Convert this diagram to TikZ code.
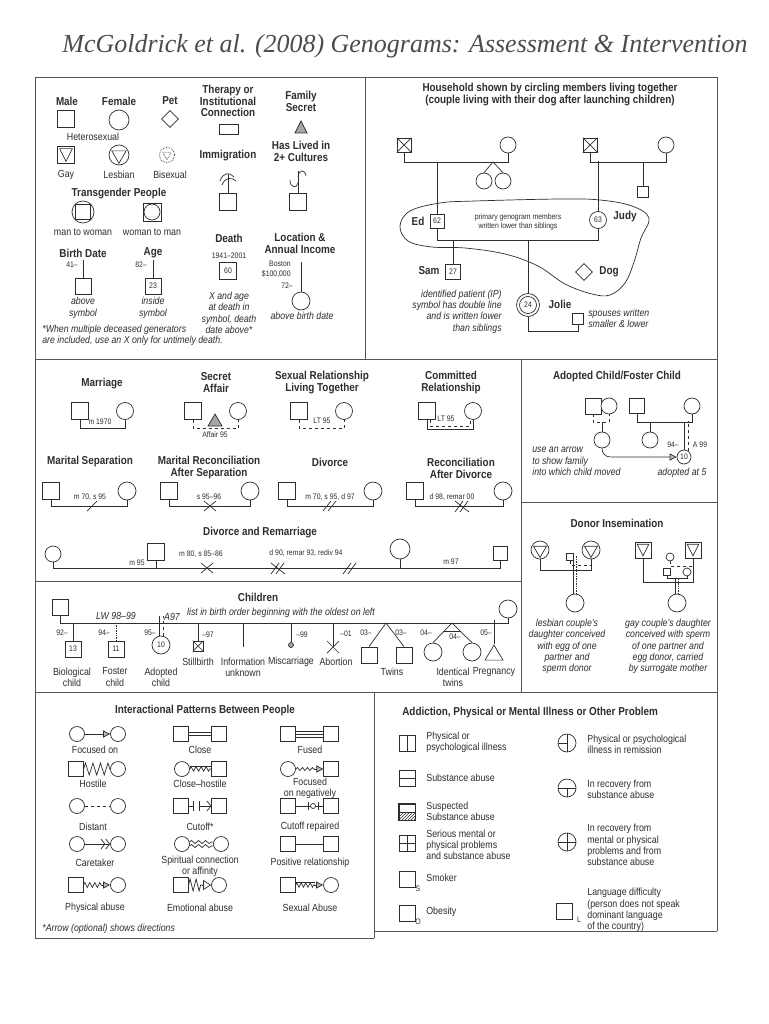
\documentclass[tikz,border=0pt]{standalone}
\usepackage{fontspec}
\setmainfont{Liberation Sans}[FakeStretch=0.86]
\newfontfamily\handfont{Liberation Serif}
\usetikzlibrary{shapes.geometric,shapes.misc,arrows.meta,decorations.pathmorphing,patterns,calc}
\definecolor{ink}{HTML}{2E2E2E}
\definecolor{framec}{HTML}{555555}
\newcommand\intri[1]{\draw ($(#1.center)!0.8!(#1.150)$) -- ($(#1.center)!0.8!(#1.30)$) -- ($(#1.center)!0.8!(#1.270)$) -- cycle;}
\newcommand\sqtri[1]{\draw ([shift={(2.5,2.5)}]#1.north west) -- ([shift={(-2.5,2.5)}]#1.north east) -- ([shift={(0,-2.5)}]#1.south) -- cycle;}
\newcommand\xsq[1]{\draw (#1.north west) -- (#1.south east) (#1.north east) -- (#1.south west);}
\begin{document}
\begin{tikzpicture}[x=1pt,y=-1pt,line width=0.7pt,color=ink,
  hd/.style={font=\bfseries\fontsize{11.5}{11.8}\selectfont,align=center,inner sep=0},
  lb/.style={font=\fontsize{10.3}{11.3}\selectfont,align=center,inner sep=0},
  sm/.style={font=\fontsize{8}{9.5}\selectfont,inner sep=0},
  itx/.style={font=\itshape\fontsize{10.2}{11.3}\selectfont,align=center,inner sep=0},
  nm/.style={font=\bfseries\fontsize{11.5}{12}\selectfont,inner sep=0},
  sq/.style={draw,rectangle,minimum size=#1,inner sep=0,fill=white,font=\fontsize{8}{8}\selectfont},
  sq/.default=17,
  ci/.style={draw,circle,minimum size=#1,inner sep=0,fill=white,font=\fontsize{8}{8}\selectfont},
  ci/.default=17,
  dm/.style={draw,diamond,minimum size=#1,inner sep=0,fill=white},
  boxline/.style={draw=framec,line width=0.9pt},
  fillarrow/.style={-{Triangle[length=7pt,width=7pt,fill=gray!55]}},
]
\path[use as bounding box,fill=white] (0,0) rectangle (768,1024);

% ---------- title ----------
\node[font=\handfont\itshape,color=black!70] (title) at (405,46) {\resizebox{685pt}{!}{McGoldrick et al. (2008) Genograms: Assessment \& Intervention}};

% ---------- frames ----------
\draw[boxline] (35,77) -- (717,77);
\draw[boxline] (35,77) -- (35,938);
\draw[boxline] (717,77) -- (717,931);
\draw[boxline] (365,77) -- (365,359);
\draw[boxline] (35,359) -- (717,359);
\draw[boxline] (521,359) -- (521,692);
\draw[boxline] (521,502) -- (717,502);
\draw[boxline] (35,581) -- (521,581);
\draw[boxline] (35,692) -- (717,692);
\draw[boxline] (374,692) -- (374,938);
\draw[boxline] (35,938) -- (374,938);
\draw[boxline] (374,931) -- (717,931);

% ---------- top left: symbols ----------
\node[hd] (tmale) at (67,101) {Male};
\node[hd] (tfem) at (119,101) {Female};
\node[hd] (tpet) at (170,101) {Pet};
\node[sq] (male) at (66,119) {};
\node[ci=20] (fem) at (119,120) {};
\node[dm=17] (pet) at (170,119) {};
\node[lb] (thet) at (93,137) {Heterosexual};
\node[sq] (gay) at (66,155) {}; \sqtri{gay}
\node[ci=20] (les) at (119,155) {}; \intri{les}
\node[circle,draw,densely dotted,minimum size=15,inner sep=0] (bi) at (167,155) {};
\draw[densely dotted] ($(bi.center)!0.6!(bi.150)$) -- ($(bi.center)!0.6!(bi.30)$) -- ($(bi.center)!0.6!(bi.270)$) -- cycle;
\node[lb] (tgay) at (66,175) {Gay};
\node[lb] (tles) at (119,175) {Lesbian};
\node[lb] (tbi) at (170,175) {Bisexual};
\node[hd] (ttrans) at (119,194) {Transgender People};
\node[ci=22] (mtw) at (83,212) {};
\draw ($(mtw.center)+(-7.5,-7.5)$) rectangle ($(mtw.center)+(7.5,7.5)$);
\node[sq=18] (wtm) at (152,212) {};
\draw (wtm.center) circle[radius=8pt];
\node[lb] (tmtw) at (83,232) {man to woman};
\node[lb] (twtm) at (152,232) {woman to man};

\node[hd] (tther) at (228,101) {Therapy or\\Institutional\\Connection};
\node[draw,minimum width=19,minimum height=10,inner sep=0] (ther) at (229,129) {};
\node[hd] (tsec) at (301,101) {Family\\Secret};
\draw[fill=gray!70] (295,133) -- (307,133) -- (301,121) -- cycle;
\node[hd] (timm) at (228,156) {Immigration};
\node[hd] (tcult) at (301,151) {Has Lived in\\2+ Cultures};
\node[sq] (imm) at (228,202) {};
\draw (imm.north) -- ++(0,-19);
\draw (220,181) .. controls (223,172) and (230,172) .. (234,177);
\draw (222,185) .. controls (225,177) and (232,177) .. (236,181);
\node[sq] (cult) at (298,202) {};
\draw (cult.north) -- ++(0,-22);
\draw (298,183) .. controls (297,189) and (290,188) .. (290,180);
\draw (298,177) .. controls (299,169) and (305,169) .. (306,176);

\node[hd] (tdeath) at (229,238) {Death};
\node[hd] (tloc) at (300,243) {Location \&\\Annual Income};
\node[hd] (tbirth) at (83,253) {Birth Date};
\node[hd] (tage) at (153,253) {Age};
\node[sm] (tdd) at (229,256) {1941–2001};
\node[sq=16] (bd) at (83,286) {};
\draw (bd.north) -- ++(0,-18);
\node[sm] (t41) at (72,265) {41–};
\node[itx] (tabove) at (83,308) {above\\symbol};
\node[sq=16] (age) at (153,286) {23};
\draw (age.north) -- ++(0,-18);
\node[sm] (t82) at (141,265) {82–};
\node[itx] (tinside) at (153,308) {inside\\symbol};
\node[sq] (dth) at (228,271) {60};
\node[itx] (txage) at (229,313) {X and age\\at death in\\symbol, death\\date above*};
\node[sm,align=right,anchor=east] (tbos) at (291,269.5) {Boston\\\$100,000};
\node[sm] (t72) at (287,286) {72–};
\node[ci=18] (loc) at (301,301) {};
\draw (loc.north) -- ++(0,-30);
\node[itx] (tabd) at (302,316) {above birth date};
\node[itx,align=left,anchor=west] (tnote1) at (42,335.5) {*When multiple deceased generators\\are included, use an X only for untimely death.};

% ---------- top right: household ----------
\node[hd] (thouse) at (550,94.5) {Household shown by circling members living together\\(couple living with their dog after launching children)};
\node[sq=14] (gf1) at (404,145) {}; \xsq{gf1}
\node[ci=16] (gm1) at (508,145) {};
\draw (gf1.south) -- ++(0,10) -| (gm1.south);
\node[ci=16] (tw1) at (484,181) {};
\node[ci=16] (tw2) at (503,181) {};
\coordinate (twap) at (493,162);
\draw (tw1.north) -- (twap) -- (tw2.north);
\node[sq=14] (gf2) at (590,145) {}; \xsq{gf2}
\node[ci=16] (gm2) at (666,145) {};
\draw (gf2.south) -- ++(0,10) -| (gm2.south);
\node[sq=11] (bro) at (643,192) {};
\draw (bro.north) -- ++(0,-24.5);

\draw plot[smooth cycle,tension=0.6] coordinates {(400,226) (410,211) (440,203) (475,201) (560,199) (600,200) (632,206) (649,218) (641,238) (634,262) (625,283) (610,295) (592,294) (565,284) (538,266) (505,254) (465,248) (432,247) (408,241)};

\node[sq=14] (ed) at (437,221) {62};
\draw (ed.north) -- ++(0,-52);
\node[ci=17] (judy) at (598,220) {63};
\draw (judy.north) -- ++(0,-50);
\node[nm] (ted) at (418,221) {Ed};
\node[nm] (tjudy) at (625,217) {Judy};
\node[sm,align=center] (tprim) at (518,222) {primary genogram members\\written lower than siblings};
\draw (ed.south) -- ++(0,12) -| (judy.south);
\node[sq=15] (sam) at (453,272) {27};
\draw (sam.north) -- ++(0,-24.5);
\node[nm] (tsam) at (429,271) {Sam};
\node[ci=23] (jolie) at (528,305) {};
\draw (jolie.center) circle[radius=8.5pt];
\node[sm] (t24) at (jolie.center) {24};
\draw (jolie.north) -- ++(0,-53.5);
\node[nm] (tjolie) at (560,304) {Jolie};
\node[sq=11] (jsp) at (578,319) {};
\draw (jolie.south) -- ++(0,14.5) -| (jsp.south);
\node[dm=17] (dog) at (584,272) {};
\node[nm] (tdog) at (609,272) {Dog};
\node[itx,align=right,anchor=east] (tip) at (502,311.5) {identified patient (IP)\\symbol has double line\\and is written lower\\than siblings};
\node[itx,align=left,anchor=west] (tspouse) at (588,318.5) {spouses written\\smaller \& lower};

% ---------- middle left: couples ----------
\node[hd] (tmar) at (102,384) {Marriage};
\node[hd] (taff) at (216,382.5) {Secret\\Affair};
\node[hd] (tlt) at (322,382.5) {Sexual Relationship\\Living Together};
\node[hd] (tcom) at (451,382.5) {Committed\\Relationship};

\node[sq] (mh) at (80,411) {};
\node[ci] (mw) at (125,411) {};
\draw (mh.south) -- ++(0,8.5) -| (mw.south);
\node[sm] (tm1970) at (100,422) {m 1970};

\node[sq] (ah) at (193,411) {};
\node[ci] (aw) at (238,411) {};
\draw[dashed] (ah.south) -- ++(0,8.5) -| (aw.south);
\draw[fill=gray!70] (208,426) -- (222,426) -- (215,414) -- cycle;
\node[sm] (taff95) at (215,435) {Affair 95};

\node[sq] (lh) at (299,411) {};
\node[ci] (lw) at (344,411) {};
\draw[dashed] (lh.south) -- ++(0,8.5) -| (lw.south);
\node[sm] (tlt95) at (322,421) {LT 95};

\node[sq] (ch) at (427,411) {};
\node[ci] (cw) at (473,411) {};
\draw (ch.south) -- ++(0,9) -| (cw.south);
\draw[dashed] ($(ch.south)+(3,0)$) -- ++(0,6) -| ($(cw.south)+(-3,0)$);
\node[sm] (tlt95b) at (446,419) {LT 95};

\node[hd] (tsep) at (90,462) {Marital Separation};
\node[hd] (trecs) at (209,467.5) {Marital Reconciliation\\After Separation};
\node[hd] (tdiv) at (330,462) {Divorce};
\node[hd] (trecd) at (461,468) {Reconciliation\\After Divorce};

\node[sq] (sh) at (51,491) {};
\node[ci=18] (sw) at (127,491) {};
\draw (sh.south) -- ++(0,6.5) -| (sw.south);
\draw (87,511) -- (97,501);
\node[sm] (tsep1) at (90,497) {m 70, s 95};

\node[sq] (rh) at (169,491) {};
\node[ci=18] (rw) at (250,491) {};
\draw (rh.south) -- ++(0,6.5) -| (rw.south);
\draw (204,501) -- (216,511) (204,511) -- (216,501);
\node[sm] (trec1) at (209,497) {s 95–96};

\node[sq] (dh) at (287,491) {};
\node[ci=18] (dw) at (373,491) {};
\draw (dh.south) -- ++(0,6.5) -| (dw.south);
\draw (323,511) -- (331,501) (328,511) -- (336,501);
\node[sm] (tdiv1) at (330,497) {m 70, s 95, d 97};

\node[sq] (xh) at (415,491) {};
\node[ci=18] (xw) at (503,491) {};
\draw (xh.south) -- ++(0,6.5) -| (xw.south);
\draw (455,512) -- (463,501) (460,512) -- (468,501) (455,501) -- (469,512);
\node[sm] (trd1) at (452,497) {d 98, remar 00};

\node[hd] (tdr) at (260,533) {Divorce and Remarriage};
\node[ci=16] (r1) at (53,554) {};
\node[sq] (r2) at (156,552) {};
\node[ci=20] (r3) at (400,549) {};
\node[sq=14] (r4) at (500,553) {};
\draw (r1.south) -- ++(0,6) -| (r4.south);
\draw (r2.south) -- ++(0,7.5);
\draw (r3.south) -- ++(0,9);
\draw (201,563) -- (213,573) (201,573) -- (213,563);
\draw (271,574) -- (279,563) (276,574) -- (284,563) (271,563) -- (285,574);
\draw (343,574) -- (351,563) (348,574) -- (356,563);
\node[sm] (tm95) at (137,563) {m 95};
\node[sm] (tm80) at (201,554) {m 80, s 85–86};
\node[sm] (td90) at (306,553) {d 90, remar 93, rediv 94};
\node[sm] (tm97) at (451,562) {m 97};

% ---------- adopted ----------
\node[hd] (tadop) at (617,377) {Adopted Child/Foster Child};
\node[sq=16] (bf) at (593,406) {};
\node[ci=16] (bm) at (609,406) {};
\draw[dashed] (bf.south) -- ++(0,8) -| (bm.south);
\node[ci=16] (bc) at (602,440) {};
\draw (bc.north) -- ++(0,-10);
\node[sq=15] (af) at (637,406) {};
\node[ci=16] (am) at (692,406) {};
\draw (af.south) -- ++(0,8.5) -| (am.south);
\node[ci=16] (ac) at (650,440) {};
\draw (ac.north) -- ++(0,-10);
\node[ci=14] (adc) at (684,457) {10};
\draw (adc.north) -- ++(0,-28);
\draw[dashed] ($(adc.north)+(4,1.5)$) -- ++(0,-30.5);
\node[sm] (t94) at (673,445) {94–};
\node[sm] (ta99) at (700,445) {A 99};
\draw[fillarrow] (bc.south) .. controls (603,458) and (608,457) .. (620,457) -- (adc.west);
\node[itx,align=left,anchor=west] (tarrow) at (532,461.5) {use an arrow\\to show family\\into which child moved};
\node[itx] (tad5) at (682,473) {adopted at 5};

% ---------- donor ----------
\node[hd] (tdon) at (617,523) {Donor Insemination};
\node[ci=18] (l1) at (540,550) {}; \intri{l1}
\node[ci=18] (l2) at (591,550) {}; \intri{l2}
\draw (l1.south) -- ++(0,11) -| (l2.south);
\node[sq=7] (sd) at (570,557) {};
\draw[dashed] (sd.south) |- ($(l2.south)+(0,6)$);
\node[ci=18] (lc) at (575,603) {};
\draw ($(lc.north)+(-1.5,0)$) -- ++(0,-38);
\draw[densely dotted] ($(lc.north)+(1.5,0)$) -- ++(0,-38);

\node[sq=16] (g1) at (643,550) {}; \sqtri{g1}
\node[sq=16] (g2) at (693,550) {}; \sqtri{g2}
\draw (g1.south) -- ++(0,24) -| (g2.south);
\node[ci=8] (egg) at (670,557) {};
\draw[dashed] (egg.south) |- ($(g2.south)+(0,8)$);
\node[sq=7] (gs) at (667,572) {};
\node[ci=8] (gsm) at (687,572) {};
\draw (gs.south) -- ++(0,2.5) -| (gsm.south);
\node[ci=18] (gc) at (677,603) {};
\draw ($(gc.north)+(-1.5,0)$) -- ++(0,-16);
\draw[densely dotted] ($(gc.north)+(1.5,0)$) -- ++(0,-16);
\node[itx] (tlesc) at (567,646.5) {lesbian couple's\\daughter conceived\\with egg of one\\partner and\\sperm donor};
\node[itx] (tgayc) at (668,646.5) {gay couple's daughter\\conceived with sperm\\of one partner and\\egg donor, carried\\by surrogate mother};

% ---------- children ----------
\node[hd] (tchild) at (258,597) {Children};
\node[sq=16] (cf) at (60,607) {};
\node[ci=18] (cm) at (508,609) {};
\draw (cf.south) -- ++(0,8) -| (cm.south);
\node[itx] (tlist) at (281,613) {list in birth order beginning with the oldest on left};

\node[sq=16] (c1) at (73,649) {13};
\draw (c1.north) -- ++(0,-18);
\node[sm] (t92) at (62,633) {92–};
\node[lb] (tbio) at (72,677) {Biological\\child};

\node[sq=16] (c2) at (116,649) {11};
\draw[densely dotted] (c2.north) -- ++(0,-18);
\node[sm] (t94b) at (104,633) {94–};
\node[itx] (tlw) at (116,616) {LW 98–99};
\node[lb] (tfos) at (115,677) {Foster\\child};

\node[ci=18] (c3) at (161,645) {10};
\draw ($(c3.north)+(-2,0)$) -- ++(0,-20);
\draw[dashed] ($(c3.north)+(2,0)$) -- ++(0,-20);
\node[sm] (t95) at (150,633) {95–};
\node[itx] (ta97) at (172,617) {A97};
\node[lb] (tado) at (161,677) {Adopted\\child};

\node[sq=10] (c4) at (198,646) {}; \xsq{c4}
\draw (c4.north) -- ++(0,-18);
\node[sm] (t97) at (208,635) {–97};
\node[lb] (tstill) at (198,662) {Stillbirth};

\coordinate (c5) at (243,647);
\draw (c5) -- ++(0,-24);
\node[lb] (tinfo) at (243,667.5) {Information\\unknown};

\node[circle,draw,fill=gray!70,minimum size=5,inner sep=0] (c6) at (291,645) {};
\draw (c6.north) -- ++(0,-19.5);
\node[sm] (t99) at (302,635) {–99};
\node[lb] (tmis) at (291,662) {Miscarriage};

\coordinate (c7) at (333,647);
\draw (c7) -- ++(0,-24);
\draw (327,641) -- (339,653) (327,653) -- (339,641);
\node[sm] (t01) at (346,634) {–01};
\node[lb] (tabo) at (336,662) {Abortion};

\node[sq=16] (t1) at (369,655) {};
\node[sq=16] (t2) at (404,655) {};
\coordinate (tap) at (386,623);
\draw (t1.north) -- (tap) -- (t2.north);
\node[sm] (t03a) at (366,633) {03–};
\node[sm] (t03b) at (401,633) {03–};
\node[lb] (ttw) at (392,672) {Twins};

\node[ci=18] (i1) at (433,652) {};
\node[ci=18] (i2) at (472,652) {};
\coordinate (iap) at (452,623);
\draw (i1.north) -- (iap) -- (i2.north);
\draw ($(iap)!0.45!(i1.north)$) -- ($(iap)!0.45!(i2.north)$);
\node[sm] (t04a) at (426,633) {04–};
\node[sm] (t04b) at (455,637) {04–};
\node[lb] (tid) at (453,677) {Identical\\twins};

\node[draw,isosceles triangle,shape border rotate=90,isosceles triangle stretches,minimum height=15,minimum width=18,inner sep=0] (c9) at (494,655) {};
\draw (c9.apex) -- ++(0,-24.5);
\node[sm] (t05) at (486,633) {05–};
\node[lb] (tpreg) at (494,672) {Pregnancy};

% ---------- interactional patterns ----------
\node[hd] (tint) at (205,711) {Interactional Patterns Between People};

\node[ci=15] (p1a) at (77,734) {};
\node[ci=15] (p1b) at (118,734) {};
\draw[fillarrow] (p1a) -- (p1b);
\node[lb] (tfoc) at (95,750) {Focused on};

\node[sq=14.5] (p2a) at (181,734) {};
\node[sq=14.5] (p2b) at (219,734) {};
\draw[double distance=2.5pt] (p2a) -- (p2b);
\node[lb] (tclose) at (200,750) {Close};

\node[sq=14.5] (p3a) at (288,734) {};
\node[sq=14.5] (p3b) at (331,734) {};
\draw (p3a) -- (p3b);
\draw ($(p3a.east)+(0,-3)$) -- ($(p3b.west)+(0,-3)$);
\draw ($(p3a.east)+(0,3)$) -- ($(p3b.west)+(0,3)$);
\node[lb] (tfused) at (310,750) {Fused};

\node[sq=14.5] (q1a) at (76,769) {};
\node[ci=15] (q1b) at (118,769) {};
\draw[decorate,decoration={zigzag,segment length=7.5pt,amplitude=6pt}] (q1a.east) -- (q1b.west);
\node[lb] (thost) at (93,784) {Hostile};

\node[ci=15] (q2a) at (182,769) {};
\node[sq=14.5] (q2b) at (219,769) {};
\draw[double distance=5pt] (q2a) -- (q2b);
\draw[decorate,decoration={zigzag,segment length=5pt,amplitude=2.2pt}] (q2a.east) -- (q2b.west);
\node[lb] (tch) at (200,784) {Close–hostile};

\node[ci=15] (q3a) at (288,769) {};
\node[sq=14.5] (q3b) at (331,769) {};
\draw[decorate,decoration={snake,segment length=5pt,amplitude=1.5pt}] (q3a.east) -- ($(q3b.west)+(-9,0)$);
\draw[fillarrow] ($(q3b.west)+(-9.5,0)$) -- (q3b.west);
\node[lb] (tfneg) at (310,788) {Focused\\on negatively};

\node[ci=15] (s1a) at (77,806) {};
\node[ci=15] (s1b) at (118,806) {};
\draw[dash pattern=on 3pt off 3pt] (s1a) -- (s1b);
\node[lb] (tdist) at (93,827) {Distant};

\node[sq=14.5] (s2a) at (181,806) {};
\node[sq=14.5] (s2b) at (219,806) {};
\draw (s2a.east) -- ++(5,0) coordinate (k1);
\draw ($(k1)+(0,-5)$) -- ($(k1)+(0,5)$);
\draw ($(k1)+(6,-5)$) -- ($(k1)+(6,5)$);
\draw[-{Straight Barb[length=4pt,width=10pt]}] ($(k1)+(6,0)$) -- (s2b.west);
\node[lb] (tcut) at (200,827) {Cutoff*};

\node[sq=14.5] (s3a) at (288,806) {};
\node[sq=14.5] (s3b) at (331,806) {};
\draw (s3a) -- (s3b);
\draw (308,802) -- (308,810) (318,802) -- (318,810);
\draw[fill=white] (313,806) circle[radius=2.5pt];
\node[lb] (tcutr) at (310,827) {Cutoff repaired};

\node[ci=15] (u1a) at (77,844) {};
\node[ci=15] (u1b) at (118,844) {};
\draw[-{Straight Barb[length=4pt,width=10pt] Straight Barb[length=4pt,width=10pt]}] (u1a) -- (u1b);
\node[lb] (tcare) at (95,863) {Caretaker};

\node[ci=15] (u2a) at (182,844) {};
\node[ci=15] (u2b) at (221,844) {};
\draw[decorate,decoration={snake,segment length=7pt,amplitude=1.5pt}] ($(u2a.east)+(-0.5,-2)$) -- ($(u2b.west)+(0.5,-2)$);
\draw[decorate,decoration={snake,segment length=7pt,amplitude=1.5pt}] ($(u2a.east)+(-0.5,2)$) -- ($(u2b.west)+(0.5,2)$);
\node[lb] (tspir) at (200,866) {Spiritual connection\\or affinity};

\node[sq=14.5] (u3a) at (288,844) {};
\node[sq=14.5] (u3b) at (331,844) {};
\draw (u3a) -- (u3b);
\node[lb] (tpos) at (310,863) {Positive relationship};

\node[sq=14.5] (v1a) at (76,885) {};
\node[ci=15] (v1b) at (118,885) {};
\draw[decorate,decoration={zigzag,segment length=5pt,amplitude=2.5pt}] (v1a.east) -- ($(v1b.west)+(-9,0)$);
\draw[fillarrow] ($(v1b.west)+(-9.5,0)$) -- (v1b.west);
\node[lb] (tphys) at (95,908) {Physical abuse};

\node[sq=14.5] (v2a) at (181,885) {};
\node[ci=15] (v2b) at (219,885) {};
\draw[decorate,decoration={zigzag,segment length=6pt,amplitude=6pt}] (v2a.east) -- ($(v2b.west)+(-9,0)$);
\draw[-{Triangle[open,length=8pt,width=10pt]}] ($(v2b.west)+(-9.5,0)$) -- (v2b.west);
\node[lb] (temo) at (200,908) {Emotional abuse};

\node[sq=14.5] (v3a) at (288,885) {};
\node[ci=15] (v3b) at (331,885) {};
\draw[double distance=5pt] (v3a.east) -- ($(v3b.west)+(-8,0)$);
\draw[decorate,decoration={zigzag,segment length=4.5pt,amplitude=2.2pt}] (v3a.east) -- ($(v3b.west)+(-8,0)$);
\draw[fillarrow] ($(v3b.west)+(-9,0)$) -- (v3b.west);
\node[lb] (tsex) at (310,908) {Sexual Abuse};

\node[itx,anchor=west] (tnote2) at (42,929) {*Arrow (optional) shows directions};

% ---------- addiction ----------
\node[hd,anchor=west] (tadd) at (402,713) {Addiction, Physical or Mental Illness or Other Problem};

\node[sq=16] (a1) at (407,743) {};
\draw (a1.north) -- (a1.south);
\node[lb,align=left,anchor=west] (ta1) at (426,742.5) {Physical or\\psychological illness};
\node[sq=16] (a2) at (407,778) {};
\draw (a2.west) -- (a2.east);
\node[lb,anchor=west] (ta2) at (426,778) {Substance abuse};
\node[sq=16] (a3) at (407,812) {};
\fill[pattern=north east lines,pattern color=ink] (a3.west) rectangle (a3.south east);
\draw (a3.north west) rectangle (a3.south east);
\draw (a3.west) -- (a3.east);
\node[lb,align=left,anchor=west] (ta3) at (426,811.5) {Suspected\\Substance abuse};
\node[sq=16] (a4) at (407,843) {};
\draw (a4.north) -- (a4.south) (a4.west) -- (a4.east);
\node[lb,align=left,anchor=west] (ta4) at (426,845) {Serious mental or\\physical problems\\and substance abuse};
\node[sq=16] (a5) at (407,879) {};
\node[sm] (ts) at (418,889) {S};
\node[lb,anchor=west] (ta5) at (426,878) {Smoker};
\node[sq=16] (a6) at (407,913) {};
\node[sm] (to) at (418,922) {O};
\node[lb,anchor=west] (ta6) at (426,912) {Obesity};

\node[ci=18] (b1) at (567,743) {};
\draw (b1.north) -- (b1.south) (b1.west) -- (b1.center);
\node[lb,align=left,anchor=west] (tb1) at (587,744.5) {Physical or psychological\\illness in remission};
\node[ci=18] (b2) at (567,788) {};
\draw (b2.west) -- (b2.east) (b2.center) -- (b2.south);
\node[lb,align=left,anchor=west] (tb2) at (587,789.5) {In recovery from\\substance abuse};
\node[ci=18] (b3) at (567,842) {};
\draw (b3.north) -- (b3.south) (b3.west) -- (b3.east);
\node[lb,align=left,anchor=west] (tb3) at (587,845) {In recovery from\\mental or physical\\problems and from\\substance abuse};
\node[sq=16] (b4) at (564,911) {};
\node[sm] (tl) at (579,920) {L};
\node[lb,align=left,anchor=west] (tb4) at (587,910) {Language difficulty\\(person does not speak\\dominant language\\of the country)};
\end{tikzpicture}
\end{document}
